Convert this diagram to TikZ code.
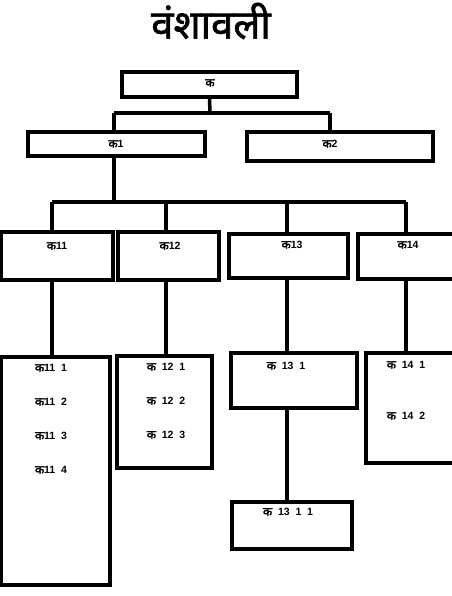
\documentclass[tikz,border=0pt]{standalone}
\usepackage{fontspec}
\setmainfont{Liberation Sans}
\newfontfamily\dev[Script=Devanagari,FakeBold=1.5]{Noto Sans}
\newfontfamily\devb[Script=Devanagari,FakeBold=2.5]{Noto Sans}
\newcommand{\K}{{\fontsize{12}{12}\devb क}}
\begin{document}
\begin{tikzpicture}[x=1pt,y=-1pt,
  box/.style={draw,line width=3.5pt,inner sep=0pt,rectangle},
  txt/.style={font=\fontsize{10.5}{12}\selectfont\bfseries,inner sep=0pt},
  ln/.style={line width=3.5pt}]
\useasboundingbox[fill=white] (0,0) rectangle (451,596);
\node[font=\fontsize{40}{44}\selectfont\dev,inner sep=0pt] (title) at (211,21) {वंशावली};
% boxes
\node[box,minimum width=175,minimum height=25] (top) at (209.5,84.5) {};
\node[box,minimum width=177,minimum height=24] (k1) at (116.5,144) {};
\node[box,minimum width=186,minimum height=29] (k2) at (340,146.5) {};
\node[box,minimum width=112,minimum height=48] (k11) at (57,256) {};
\node[box,minimum width=101,minimum height=48] (k12) at (168.5,256) {};
\node[box,minimum width=119,minimum height=44] (k13) at (288.5,256) {};
\node[box,minimum width=120,minimum height=45] (k14) at (418,256.5) {};
\node[box,minimum width=109,minimum height=228] (c11) at (55.5,471) {};
\node[box,minimum width=95,minimum height=112] (c12) at (164.5,412) {};
\node[box,minimum width=126,minimum height=55] (c131) at (294,380.5) {};
\node[box,minimum width=120,minimum height=47] (c1311) at (292,525.5) {};
\node[box,minimum width=110,minimum height=110] (c14) at (421,408) {};
% texts
\node[txt] (t0) at (210,83) {\K};
\node[txt] (t1) at (116,144) {\K1};
\node[txt] (t2) at (330,144) {\K2};
\node[txt] (t11) at (57,246) {\K11};
\node[txt] (t12) at (170,246) {\K12};
\node[txt] (t13) at (292,245) {\K13};
\node[txt] (t14) at (408,245) {\K14};
\node[txt] (a1) at (51,368) {\K11\ \ 1};
\node[txt] (a2) at (51,402) {\K11\ \ 2};
\node[txt] (a3) at (51,436) {\K11\ \ 3};
\node[txt] (a4) at (51,470) {\K11\ \ 4};
\node[txt] (b1) at (166,367) {\K\ \ 12\ \ 1};
\node[txt] (b2) at (166,401) {\K\ \ 12\ \ 2};
\node[txt] (b3) at (166,435) {\K\ \ 12\ \ 3};
\node[txt] (c1) at (286,366) {\K\ \ 13\ \ 1};
\node[txt] (d1) at (406,365) {\K\ \ 14\ \ 1};
\node[txt] (d2) at (406,416) {\K\ \ 14\ \ 2};
\node[txt] (e1) at (288,512) {\K\ \ 13\ \ 1\ \ 1};
% connectors
\coordinate (j0) at (210,113);
\coordinate (j0l) at (114,113);
\coordinate (j0r) at (330,113);
\draw[ln] (top.south) -- (j0);
\draw[ln] (j0l) -- (j0r);
\draw[ln] (j0l) -- (j0l |- k1.north);
\draw[ln] (j0r) -- (j0r |- k2.north);
\coordinate (j1) at (114,202);
\coordinate (j1a) at (52,202);
\coordinate (j1b) at (166,202);
\coordinate (j1c) at (287,202);
\coordinate (j1d) at (406,202);
\draw[ln] (j1 |- k1.south) -- (j1);
\draw[ln] (j1a) -- (j1d);
\draw[ln] (j1a) -- (j1a |- k11.north);
\draw[ln] (j1b) -- (j1b |- k12.north);
\draw[ln] (j1c) -- (j1c |- k13.north);
\draw[ln] (j1d) -- (j1d |- k14.north);
\draw[ln] (j1a |- k11.south) -- (j1a |- c11.north);
\draw[ln] (j1b |- k12.south) -- (j1b |- c12.north);
\draw[ln] (j1c |- k13.south) -- (j1c |- c131.north);
\draw[ln] (j1d |- k14.south) -- (j1d |- c14.north);
\draw[ln] (j1c |- c131.south) -- (j1c |- c1311.north);
\end{tikzpicture}
\end{document}
